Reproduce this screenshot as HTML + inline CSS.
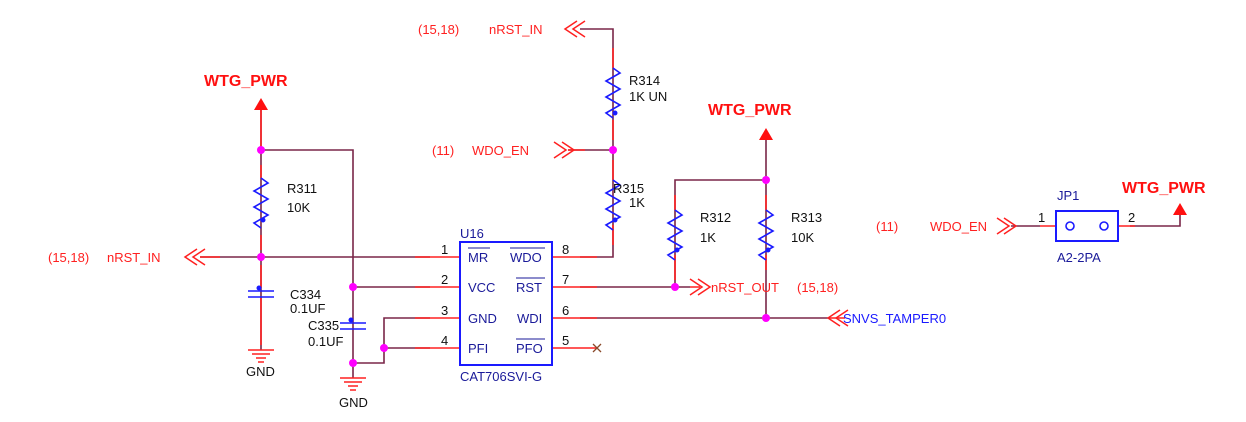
<!DOCTYPE html>
<html><head><style>body{margin:0;background:#fff}svg{display:block}text{font-family:"Liberation Sans",sans-serif}</style></head><body>
<svg width="1246" height="422" xmlns="http://www.w3.org/2000/svg">
<g stroke="#7a2648" stroke-width="1.6" fill="none">
<path d="M261 110V150H353V378"/>
<path d="M200 257H430"/>
<path d="M261 150V257V350"/>
<path d="M353 287H430M430 318H384V363H353M384 348H430"/>
<path d="M580 29H613V257H580"/>
<path d="M568 150H613"/>
<path d="M580 287H690M580 318H830M675 287V180H766V318M766 140V180"/>
<path d="M1011 226H1040M1130 226H1180V215"/>
</g>
<g stroke="#ff2020" stroke-width="1.6" fill="none">
<path d="M415 257H460M415 287H460M415 318H460M415 348H460M552 257H597M552 287H597M552 318H597M552 348H597"/>
<path d="M1040 226H1056M1118 226H1135"/>
<path d="M261 110V150M261 165V178M261 235V250M261 265V288M261 298V345"/>
<path d="M613 48V68M613 120V140M613 160V180M613 225V245M675 195V210M675 255V280M766 195V210M766 255V270"/>
<path d="M200 257H220M568 150H585M830 318H845M690 287H700"/>
</g>
<g stroke="#1a1aff" stroke-width="1.6" fill="none">
<rect x="460" y="242" width="92" height="123" stroke-width="2"/>
<rect x="1056" y="211" width="62" height="30" stroke-width="2"/>
<circle cx="1070" cy="226" r="4"/><circle cx="1104" cy="226" r="4"/>
<path d="M261 178l7 5-14 8 14 8-14 8 14 8-14 8 7 5"/>
<path d="M613 68l7 5-14 8 14 8-14 8 14 8-14 8 7 5"/>
<path d="M613 180l7 5-14 8 14 8-14 8 14 8-14 8 7 5"/>
<path d="M675 210l7 5-14 8 14 8-14 8 14 8-14 8 7 5"/>
<path d="M766 210l7 5-14 8 14 8-14 8 14 8-14 8 7 5"/>
<path d="M248 291H274M248 297H274M340 323H366M340 329H366"/>
</g>
<g fill="#1a1aff"><circle cx="263" cy="220" r="2.5"/><circle cx="615" cy="113" r="2.5"/><circle cx="615" cy="220" r="2.5"/><circle cx="677" cy="250" r="2.5"/><circle cx="768" cy="250" r="2.5"/><circle cx="259" cy="288" r="2.5"/><circle cx="351" cy="320" r="2.5"/></g>
<g stroke="#ff2020" stroke-width="1.5" fill="none">
<path d="M248 350H274M252 354H270M256 358H266M258 362H264"/>
<path d="M340 378H366M344 382H362M348 386H358M350 390H356"/>
<path d="M197 249l-12 8 12 8M205 249l-12 8 12 8"/>
<path d="M577 21l-12 8 12 8M585 21l-12 8 12 8"/>
<path d="M554 142l12 8-12 8M562 142l12 8-12 8"/>
<path d="M690 279l12 8-12 8M698 279l12 8-12 8"/>
<path d="M840 310l-12 8 12 8M848 310l-12 8 12 8"/>
<path d="M997 218l12 8-12 8M1004 218l12 8-12 8"/>
</g>
<path d="M593 344l8 8M601 344l-8 8" stroke="#8a4a2a" stroke-width="1.3"/>
<g fill="#ff1010"><path d="M254 110L261 98L268 110Z"/><path d="M759 140L766 128L773 140Z"/><path d="M1173 215L1180 203L1187 215Z"/></g>
<g fill="#ff00ff"><circle cx="261" cy="150" r="4"/><circle cx="261" cy="257" r="4"/><circle cx="353" cy="287" r="4"/><circle cx="353" cy="363" r="4"/><circle cx="384" cy="348" r="4"/><circle cx="613" cy="150" r="4"/><circle cx="675" cy="287" r="4"/><circle cx="766" cy="180" r="4"/><circle cx="766" cy="318" r="4"/></g>
<g font-size="16" font-weight="bold" fill="#ff1010"><text x="204" y="86">WTG_PWR</text><text x="708" y="115">WTG_PWR</text><text x="1122" y="193">WTG_PWR</text></g>
<g font-size="13" fill="#ff2020"><text x="418" y="34">(15,18)</text><text x="489" y="34">nRST_IN</text><text x="432" y="155">(11)</text><text x="472" y="155">WDO_EN</text><text x="48" y="262">(15,18)</text><text x="107" y="262">nRST_IN</text><text x="711" y="292">nRST_OUT</text><text x="797" y="292">(15,18)</text><text x="876" y="231">(11)</text><text x="930" y="231">WDO_EN</text></g>
<text x="843" y="323" font-size="13" fill="#1a1aff">SNVS_TAMPER0</text>
<g font-size="13" fill="#111"><text x="287" y="193">R311</text><text x="287" y="212">10K</text><text x="629" y="85">R314</text><text x="629" y="101">1K UN</text><text x="613" y="193">R315</text><text x="629" y="207">1K</text><text x="700" y="222">R312</text><text x="700" y="242">1K</text><text x="791" y="222">R313</text><text x="791" y="242">10K</text><text x="290" y="299">C334</text><text x="290" y="313">0.1UF</text><text x="308" y="330">C335</text><text x="308" y="346">0.1UF</text><text x="246" y="376">GND</text><text x="339" y="407">GND</text><text x="441" y="254">1</text><text x="441" y="284">2</text><text x="441" y="315">3</text><text x="441" y="345">4</text><text x="562" y="254">8</text><text x="562" y="284">7</text><text x="562" y="315">6</text><text x="562" y="345">5</text><text x="1038" y="222">1</text><text x="1128" y="222">2</text></g>
<g font-size="13" fill="#1a1a99"><text x="460" y="238">U16</text><text x="460" y="381">CAT706SVI-G</text><text x="1057" y="200">JP1</text><text x="1057" y="262">A2-2PA</text>
<text x="468" y="262">MR</text><text x="468" y="292">VCC</text><text x="468" y="323">GND</text><text x="468" y="353">PFI</text><text x="510" y="262">WDO</text><text x="516" y="292">RST</text><text x="517" y="323">WDI</text><text x="516" y="353">PFO</text></g>
<g stroke="#1a1a99" stroke-width="1"><path d="M468 248H490M510 248H545M516 278H545M516 339H545"/></g>
</svg>
</body></html>
